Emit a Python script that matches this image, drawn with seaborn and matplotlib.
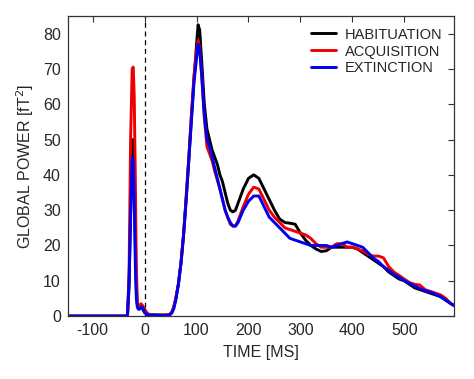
import matplotlib
matplotlib.use("Agg")
import matplotlib.pyplot as plt
import pandas as pd
import seaborn as sns

# time axis in ms, shared by the three conditions
time_ms = [-148, -36, -33, -30, -27, -24, -22, -20, -18, -16, -14, -12, -10, -7, -4,
           0, 5, 10, 20, 30, 40, 48, 52, 56, 60, 65, 70, 75, 80, 85, 90, 95, 100,
           103, 106, 110, 115, 120, 125, 130, 135, 140, 145, 150, 155, 160, 165,
           170, 175, 180, 190, 200, 210, 220, 230, 240, 250, 260, 270, 280, 290,
           300, 310, 320, 330, 340, 350, 360, 370, 380, 390, 400, 410, 420, 430,
           440, 450, 460, 470, 480, 490, 500, 510, 520, 530, 540, 550, 560, 570,
           580, 590, 596]

habituation = [0, 0, 0, 8, 30, 48, 50, 40, 22, 8, 3, 2, 2, 2.5, 2,
               1, 0.5, 0.3, 0.3, 0.3, 0.3, 0.4, 1, 2.5, 5, 9, 15, 23, 33, 44, 56, 67, 77,
               82.5, 81, 72, 60, 53, 50, 47, 45, 43, 40, 38, 35, 32, 30,
               29.5, 30, 32, 36, 39, 40, 39, 36, 33, 30, 27.5, 26.5, 26.3, 26,
               23.5, 21.5, 20, 19, 18.3, 18.5, 19.5, 19.5, 19.5, 19.5, 19.5, 19, 18, 17,
               16, 15, 14, 12.5, 11.5, 10.5, 10, 9, 8, 7.5, 7, 6.5, 6, 5.5,
               4.5, 3.5, 3]

acquisition = [0, 0, 0, 12, 50, 70, 70.5, 62, 40, 14, 4, 2.5, 2.5, 3.5, 3,
               2, 0.8, 0.4, 0.3, 0.3, 0.3, 0.5, 1, 2.5, 5, 9, 15, 23, 34, 45, 57, 68, 75,
               78, 76, 68, 56, 48, 46, 44, 41, 38.5, 36, 33, 30, 28, 26,
               25.5, 25.5, 27, 31, 34.5, 36.5, 36, 33, 30, 28, 26.5, 25, 24.5, 24,
               23.5, 23, 22, 20.5, 19.5, 19.5, 19.5, 20.5, 20.5, 19.5, 19.5, 19, 18.5, 17.5,
               17, 17, 16.5, 14, 12.5, 11.5, 10.5, 9.5, 9, 8.8, 7.5, 7, 6.5, 6,
               5, 3.5, 3]

extinction = [0, 0, 0.5, 10, 28, 45, 44, 32, 15, 5, 2.5, 2, 2, 2.5, 2.5,
              1, 0.4, 0.3, 0.3, 0.2, 0.2, 0.3, 0.8, 2, 4.5, 9, 15, 23, 33, 44, 55, 66, 73,
              77, 75.5, 68, 57, 50, 48, 45, 42, 39, 36, 33, 30, 28, 26.5,
              25.5, 25.5, 26.5, 30, 32.5, 34, 34, 31, 28, 26.5, 25, 23.5, 22, 21.5,
              21, 20.5, 20, 20, 20, 20, 19.5, 20, 20.5, 21, 20.5, 20, 19.5, 18,
              16.5, 15.5, 14, 13, 11.8, 11, 10, 9.3, 8.5, 7.8, 7.2, 6.8, 6.2, 5.5,
              4.5, 3.5, 3]

conditions = ["HABITUATION", "ACQUISITION", "EXTINCTION"]
colors = ["#000000", "#ee0000", "#0000ee"]

frames = []
for name, vals in zip(conditions, [habituation, acquisition, extinction]):
    frames.append(pd.DataFrame({"time": time_ms, "power": vals, "condition": name}))
df = pd.concat(frames, ignore_index=True)

sns.set_style("white")
plt.rcParams["font.family"] = ["Liberation Sans", "DejaVu Sans"]
plt.rcParams["axes.unicode_minus"] = False

fig, ax = plt.subplots(figsize=(4.74, 3.79), dpi=100)
fig.subplots_adjust(left=0.143, right=0.958, top=0.958, bottom=0.166)

sns.lineplot(data=df, x="time", y="power", hue="condition",
             hue_order=conditions, palette=colors, linewidth=2.1, ax=ax)
ax.axvline(0, color="black", linestyle=(0, (4, 3)), linewidth=0.9, zorder=0)

ax.set_xlim(-148, 596)
ax.set_ylim(0, 85)
ax.set_xticks([-100, 0, 100, 200, 300, 400, 500])
ax.set_yticks(range(0, 81, 10))
ax.set_xlabel("TIME [MS]", fontsize=11.5, labelpad=5)
ax.set_ylabel("GLOBAL POWER [fT$^2$]", fontsize=11.5, labelpad=5)
ax.tick_params(direction="in", top=True, right=True, length=4, width=0.8,
               labelsize=11.5, color="#333333", pad=5)
for sp in ax.spines.values():
    sp.set_color("#333333")
    sp.set_linewidth(0.9)

leg = ax.legend(loc="upper right", frameon=False, fontsize=10.5,
                handlelength=1.7, handletextpad=0.6, labelspacing=0.2,
                borderaxespad=0.4)
for line in leg.get_lines():
    line.set_linewidth(2.1)

fig.savefig("out.png", dpi=100)
